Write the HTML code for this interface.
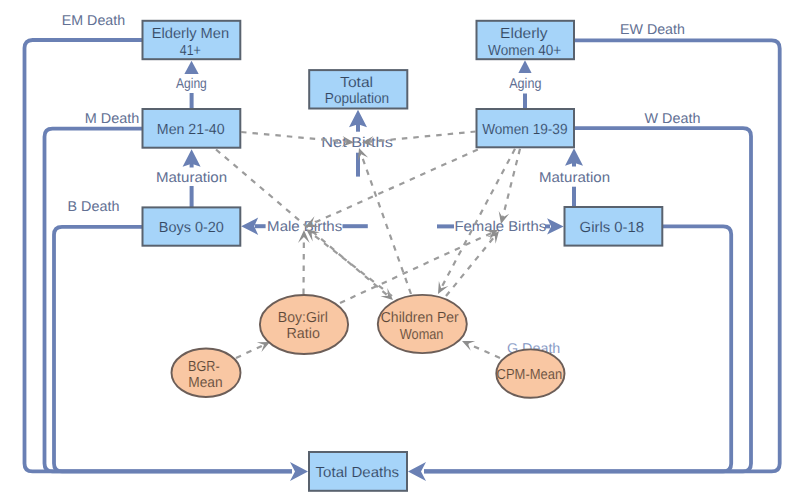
<!DOCTYPE html>
<html><head><meta charset="utf-8"><style>
html,body{margin:0;padding:0;background:#fff;}
svg{display:block;font-family:"Liberation Sans",sans-serif;text-rendering:geometricPrecision;}
</style></head><body>
<svg width="800" height="502" viewBox="0 0 800 502">
<rect width="800" height="502" fill="#fff"/>
<path d="M142,40 H32.5 Q24.5,40 24.5,48 V463.4 Q24.5,471.4 32.5,471.4 H292" fill="none" stroke="#6a80b4" stroke-width="3.8" stroke-linejoin="round"/>
<path d="M142,128.7 H52.5 Q44.5,128.7 44.5,136.7 V463.4 Q44.5,471.4 52.5,471.4 H292" fill="none" stroke="#6a80b4" stroke-width="3.8" stroke-linejoin="round"/>
<path d="M142,226.8 H62 Q54,226.8 54,234.8 V463.4 Q54,471.4 62,471.4 H292" fill="none" stroke="#6a80b4" stroke-width="3.8" stroke-linejoin="round"/>
<path d="M575,40.4 H771.7 Q779.7,40.4 779.7,48.4 V463.4 Q779.7,471.4 771.7,471.4 H424" fill="none" stroke="#6a80b4" stroke-width="3.8" stroke-linejoin="round"/>
<path d="M575,128.2 H743 Q751,128.2 751,136.2 V463.4 Q751,471.4 743,471.4 H424" fill="none" stroke="#6a80b4" stroke-width="3.8" stroke-linejoin="round"/>
<path d="M663,226.3 H723.2 Q731.2,226.3 731.2,234.3 V463.4 Q731.2,471.4 723.2,471.4 H424" fill="none" stroke="#6a80b4" stroke-width="3.8" stroke-linejoin="round"/>
<polygon points="308,471.4 290,461.9 295,471.4 290,480.9" fill="#6a80b4"/>
<polygon points="408,471.4 426,461.9 421,471.4 426,480.9" fill="#6a80b4"/>
<line x1="191.6" y1="93" x2="191.6" y2="109" stroke="#6a80b4" stroke-width="4"/>
<polygon points="191.5,60.7 198.7,74 184.4,74" fill="#6a80b4"/>
<line x1="525" y1="93.5" x2="525" y2="109" stroke="#6a80b4" stroke-width="4"/>
<polygon points="525,60.3 531.6,73 518.4,73" fill="#6a80b4"/>
<line x1="191.6" y1="163" x2="191.6" y2="167.5" stroke="#6a80b4" stroke-width="4"/>
<line x1="191.6" y1="186" x2="191.6" y2="208" stroke="#6a80b4" stroke-width="4"/>
<polygon points="191.6,149.2 200.6,166.7 191.6,163.7 182.6,166.7" fill="#6a80b4"/>
<line x1="574" y1="162" x2="574" y2="166.5" stroke="#6a80b4" stroke-width="4"/>
<line x1="574" y1="186.7" x2="574" y2="207" stroke="#6a80b4" stroke-width="4"/>
<polygon points="574,148.2 583,165.7 574,162.7 565,165.7" fill="#6a80b4"/>
<line x1="358" y1="120" x2="358" y2="131.7" stroke="#6a80b4" stroke-width="4"/>
<line x1="358" y1="152.7" x2="358" y2="176.6" stroke="#6a80b4" stroke-width="4"/>
<polygon points="358,109.7 367,127.2 358,124.2 349,127.2" fill="#6a80b4"/>
<line x1="255" y1="226.2" x2="265.6" y2="226.2" stroke="#6a80b4" stroke-width="4"/>
<line x1="342.5" y1="226.2" x2="367.8" y2="226.2" stroke="#6a80b4" stroke-width="4"/>
<polygon points="241.2,226.2 258.2,217.5 254.2,226.2 258.2,234.89999999999998" fill="#6a80b4"/>
<line x1="437" y1="226.4" x2="454" y2="226.4" stroke="#6a80b4" stroke-width="4"/>
<line x1="545" y1="226.4" x2="550" y2="226.4" stroke="#6a80b4" stroke-width="4"/>
<polygon points="563.6,226.4 547.1,218.20000000000002 551.1,226.4 547.1,234.6" fill="#6a80b4"/>
<rect x="142.5" y="20.8" width="97.80000000000001" height="38.400000000000006" fill="#a6d4f9" stroke="#59626e" stroke-width="2"/>
<rect x="142.5" y="109" width="97.80000000000001" height="38.69999999999999" fill="#a6d4f9" stroke="#59626e" stroke-width="2"/>
<rect x="142.5" y="207.4" width="97.80000000000001" height="38.29999999999998" fill="#a6d4f9" stroke="#59626e" stroke-width="2"/>
<rect x="309.2" y="70.1" width="98.10000000000002" height="38.400000000000006" fill="#a6d4f9" stroke="#59626e" stroke-width="2"/>
<rect x="476.5" y="20.8" width="97.5" height="38.400000000000006" fill="#a6d4f9" stroke="#59626e" stroke-width="2"/>
<rect x="476.5" y="109" width="97.5" height="38.30000000000001" fill="#a6d4f9" stroke="#59626e" stroke-width="2"/>
<rect x="564.5" y="207" width="97.79999999999995" height="38.599999999999994" fill="#a6d4f9" stroke="#59626e" stroke-width="2"/>
<rect x="309" y="452" width="98" height="38.80000000000001" fill="#a6d4f9" stroke="#59626e" stroke-width="2"/>
<text x="61.8" y="24.88" textLength="63.3" lengthAdjust="spacingAndGlyphs" fill="#627093" stroke="#fff" stroke-width="0" font-size="14.2">EM Death</text>
<text x="84.83" y="123.06" textLength="54.5" lengthAdjust="spacingAndGlyphs" fill="#627093" stroke="#fff" stroke-width="0" font-size="14.2">M Death</text>
<text x="67.49" y="211.08" textLength="51.89" lengthAdjust="spacingAndGlyphs" fill="#627093" stroke="#fff" stroke-width="0" font-size="14.2">B Death</text>
<text x="620.0" y="34.38" textLength="64.86" lengthAdjust="spacingAndGlyphs" fill="#627093" stroke="#fff" stroke-width="0" font-size="14.2">EW Death</text>
<text x="644.6" y="122.83" textLength="55.82" lengthAdjust="spacingAndGlyphs" fill="#627093" stroke="#fff" stroke-width="0" font-size="14.2">W Death</text>
<text x="175.9" y="88.43" textLength="30.95" lengthAdjust="spacingAndGlyphs" fill="#627093" stroke="#fff" stroke-width="0" font-size="14.2">Aging</text>
<text x="509.2" y="88.43" textLength="32.26" lengthAdjust="spacingAndGlyphs" fill="#627093" stroke="#fff" stroke-width="0" font-size="14.2">Aging</text>
<text x="155.94" y="181.63" textLength="71.16" lengthAdjust="spacingAndGlyphs" fill="#627093" stroke="#fff" stroke-width="0" font-size="14.2">Maturation</text>
<text x="538.94" y="181.63" textLength="71.16" lengthAdjust="spacingAndGlyphs" fill="#627093" stroke="#fff" stroke-width="0" font-size="14.2">Maturation</text>
<text x="267.14" y="230.83" textLength="75.08" lengthAdjust="spacingAndGlyphs" fill="#627093" stroke="#fff" stroke-width="0" font-size="14.2">Male Births</text>
<text x="454.55" y="230.78" textLength="91.59" lengthAdjust="spacingAndGlyphs" fill="#627093" stroke="#fff" stroke-width="0" font-size="14.2">Female Births</text>
<text x="321.35" y="147.38" textLength="71.49" lengthAdjust="spacingAndGlyphs" fill="#627093" stroke="#fff" stroke-width="0" font-size="14.2">Net Births</text>
<text x="506.99" y="353.38" textLength="53.36" lengthAdjust="spacingAndGlyphs" fill="#7d92bf" stroke="#fff" stroke-width="0.1" font-size="14.2">G Death</text>
<text x="151.69" y="37.97" textLength="77.47" lengthAdjust="spacingAndGlyphs" fill="#34475f" stroke="#a6d4f9" stroke-width="0.15" font-size="14.6">Elderly Men</text>
<text x="179.75" y="54.97" textLength="21.1" lengthAdjust="spacingAndGlyphs" fill="#34475f" stroke="#a6d4f9" stroke-width="0.15" font-size="14.6">41+</text>
<text x="156.83" y="133.67" textLength="67.83" lengthAdjust="spacingAndGlyphs" fill="#34475f" stroke="#a6d4f9" stroke-width="0.15" font-size="14.6">Men 21-40</text>
<text x="158.81" y="231.82" textLength="65.0" lengthAdjust="spacingAndGlyphs" fill="#34475f" stroke="#a6d4f9" stroke-width="0.15" font-size="14.6">Boys 0-20</text>
<text x="340.1" y="86.82" textLength="32.99" lengthAdjust="spacingAndGlyphs" fill="#34475f" stroke="#a6d4f9" stroke-width="0.15" font-size="14.6">Total</text>
<text x="324.87" y="103.47" textLength="64.25" lengthAdjust="spacingAndGlyphs" fill="#34475f" stroke="#a6d4f9" stroke-width="0.15" font-size="14.6">Population</text>
<text x="500.14" y="37.97" textLength="47.41" lengthAdjust="spacingAndGlyphs" fill="#34475f" stroke="#a6d4f9" stroke-width="0.15" font-size="14.6">Elderly</text>
<text x="488.1" y="54.67" textLength="73.17" lengthAdjust="spacingAndGlyphs" fill="#34475f" stroke="#a6d4f9" stroke-width="0.15" font-size="14.6">Women 40+</text>
<text x="482.2" y="133.67" textLength="85.28" lengthAdjust="spacingAndGlyphs" fill="#34475f" stroke="#a6d4f9" stroke-width="0.15" font-size="14.6">Women 19-39</text>
<text x="579.58" y="231.57" textLength="64.59" lengthAdjust="spacingAndGlyphs" fill="#34475f" stroke="#a6d4f9" stroke-width="0.15" font-size="14.6">Girls 0-18</text>
<text x="315.6" y="477.15" textLength="83.53" lengthAdjust="spacingAndGlyphs" fill="#34475f" stroke="#a6d4f9" stroke-width="0.15" font-size="14.6">Total Deaths</text>
<line x1="241" y1="132" x2="348.0" y2="141.9" stroke="#9c9c9c" stroke-width="2.2" stroke-dasharray="5.5 6"/>
<polygon points="354.0,142.5 342.6,136.0 347.4,141.9 341.6,146.8" fill="#8e8e8e"/>
<line x1="476" y1="131.5" x2="368.0" y2="141.9" stroke="#9c9c9c" stroke-width="2.2" stroke-dasharray="5.5 6"/>
<polygon points="362.0,142.5 374.5,146.7 368.6,141.9 373.4,136.0" fill="#8e8e8e"/>
<line x1="411" y1="294" x2="361.0" y2="153.7" stroke="#9c9c9c" stroke-width="2.2" stroke-dasharray="5.5 6"/>
<polygon points="359.0,148.0 357.9,161.1 361.2,154.2 368.1,157.5" fill="#8e8e8e"/>
<line x1="216" y1="149.5" x2="388.4" y2="296.1" stroke="#9c9c9c" stroke-width="2.2" stroke-dasharray="5.5 6"/>
<polygon points="393.0,300.0 387.4,288.1 388.0,295.7 380.4,296.3" fill="#8e8e8e"/>
<line x1="392" y1="296" x2="311.1" y2="233.0" stroke="#9c9c9c" stroke-width="2.2" stroke-dasharray="5.5 6"/>
<polygon points="306.0,229.0 312.7,241.6 311.6,233.4 319.9,232.4" fill="#8e8e8e"/>
<line x1="477.8" y1="149.5" x2="310.9" y2="224.3" stroke="#9c9c9c" stroke-width="2.2" stroke-dasharray="5.5 6"/>
<polygon points="305.0,227.0 319.3,227.0 311.5,224.1 314.5,216.3" fill="#8e8e8e"/>
<line x1="303.5" y1="294" x2="303.9" y2="236.5" stroke="#9c9c9c" stroke-width="2.2" stroke-dasharray="5.5 6"/>
<polygon points="304.0,230.0 298.0,243.0 303.9,237.1 309.7,243.0" fill="#8e8e8e"/>
<line x1="515" y1="148.8" x2="440.8" y2="288.7" stroke="#9c9c9c" stroke-width="2.2" stroke-dasharray="5.5 6"/>
<polygon points="438.0,294.0 448.4,285.9 441.1,288.2 438.9,280.9" fill="#8e8e8e"/>
<line x1="520" y1="148.8" x2="502.5" y2="218.2" stroke="#9c9c9c" stroke-width="2.2" stroke-dasharray="5.5 6"/>
<polygon points="501.0,224.0 509.2,213.7 502.6,217.6 498.7,211.0" fill="#8e8e8e"/>
<line x1="340" y1="303" x2="492.6" y2="232.5" stroke="#9c9c9c" stroke-width="2.2" stroke-dasharray="5.5 6"/>
<polygon points="498.0,230.0 484.8,230.1 492.0,232.8 489.4,239.9" fill="#8e8e8e"/>
<line x1="446" y1="296" x2="495.2" y2="235.7" stroke="#9c9c9c" stroke-width="2.2" stroke-dasharray="5.5 6"/>
<polygon points="499.0,231.0 487.2,236.9 494.8,236.1 495.6,243.7" fill="#8e8e8e"/>
<line x1="236" y1="358" x2="264.6" y2="344.6" stroke="#9c9c9c" stroke-width="2.2" stroke-dasharray="5.5 6"/>
<polygon points="270.0,342.0 256.8,342.2 264.0,344.8 261.4,352.0" fill="#8e8e8e"/>
<line x1="500" y1="358" x2="467.5" y2="343.5" stroke="#9c9c9c" stroke-width="2.2" stroke-dasharray="5.5 6"/>
<polygon points="462.0,341.0 470.7,350.8 468.0,343.7 475.2,341.0" fill="#8e8e8e"/>
<ellipse cx="304" cy="324.5" rx="44.1" ry="29.5" fill="#f9c7a3" stroke="#6c5e58" stroke-width="1.9"/>
<ellipse cx="206" cy="372.75" rx="34.5" ry="24.2" fill="#f9c7a3" stroke="#6c5e58" stroke-width="1.9"/>
<ellipse cx="422.3" cy="324" rx="44.5" ry="29.1" fill="#f9c7a3" stroke="#6c5e58" stroke-width="1.9"/>
<ellipse cx="530.4" cy="373.6" rx="34.1" ry="24.2" fill="#f9c7a3" stroke="#6c5e58" stroke-width="1.9"/>
<text x="277.78" y="322.24" textLength="50.08" lengthAdjust="spacingAndGlyphs" fill="#5a4838" stroke="#f9c7a3" stroke-width="0.15" font-size="14.5">Boy:Girl</text>
<text x="286.52" y="338.29" textLength="33.33" lengthAdjust="spacingAndGlyphs" fill="#5a4838" stroke="#f9c7a3" stroke-width="0.15" font-size="14.5">Ratio</text>
<text x="187.93" y="371.34" textLength="31.69" lengthAdjust="spacingAndGlyphs" fill="#5a4838" stroke="#f9c7a3" stroke-width="0.15" font-size="14.5">BGR-</text>
<text x="188.25" y="387.44" textLength="34.36" lengthAdjust="spacingAndGlyphs" fill="#5a4838" stroke="#f9c7a3" stroke-width="0.15" font-size="14.5">Mean</text>
<text x="380.73" y="322.34" textLength="78.04" lengthAdjust="spacingAndGlyphs" fill="#5a4838" stroke="#f9c7a3" stroke-width="0.15" font-size="14.5">Children Per</text>
<text x="399.8" y="338.69" textLength="43.62" lengthAdjust="spacingAndGlyphs" fill="#5a4838" stroke="#f9c7a3" stroke-width="0.15" font-size="14.5">Woman</text>
<text x="496.61" y="378.99" textLength="65.58" lengthAdjust="spacingAndGlyphs" fill="#5a4838" stroke="#f9c7a3" stroke-width="0.15" font-size="14.5">CPM-Mean</text>
</svg></body></html>
